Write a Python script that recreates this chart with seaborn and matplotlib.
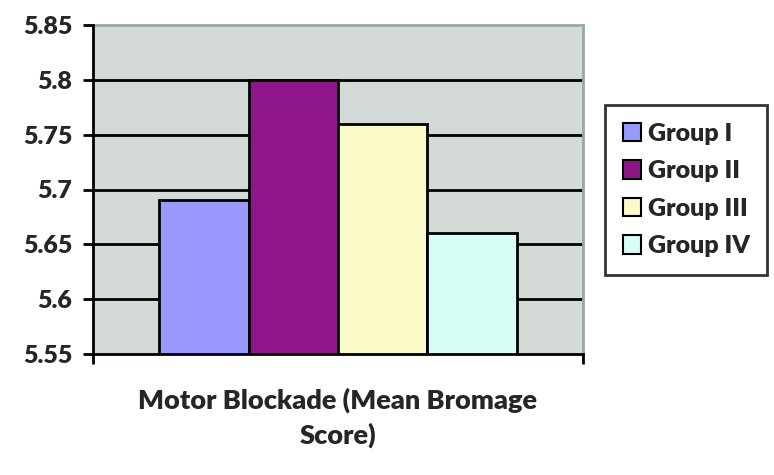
import matplotlib
matplotlib.use("Agg")
import matplotlib.pyplot as plt
from matplotlib.font_manager import FontProperties
import seaborn as sns
import pandas as pd

categories = ["Motor Blockade (Mean Bromage\nScore)"]
groups = ["Group I", "Group II", "Group III", "Group IV"]
values = [5.69, 5.80, 5.76, 5.66]
colors = ["#9999FF", "#8F1689", "#FAFBC8", "#D8FDF6"]
yticks = [5.55, 5.6, 5.65, 5.7, 5.75, 5.8, 5.85]
ytick_labels = ["5.55", "5.6", "5.65", "5.7", "5.75", "5.8", "5.85"]

df = pd.DataFrame({"category": categories * len(groups), "group": groups, "value": values})

sns.set_theme(style="white")
plt.rcParams["font.family"] = ["Lato", "DejaVu Sans"]

fp_tick = FontProperties(family="Lato", weight=800, size=18)
fp_leg = FontProperties(family="Lato", weight=800, size=18)
fp_cat = FontProperties(family="Lato", weight=800, size=19.5)

fig = plt.figure(figsize=(7.74, 4.75), dpi=100)
ax = fig.add_axes([93/774, 1-354/475, (583-93)/774, (354-25)/475])
ax.set_facecolor("#D3DAD8")

sns.barplot(data=df, x="category", y="value", hue="group", palette=colors,
            width=0.73, edgecolor="black", linewidth=2, ax=ax, zorder=3, saturation=1)

ax.set_ylim(5.55, 5.85)
ax.set_xlim(-0.5, 0.5)
ax.set_yticks(yticks)
ax.set_yticklabels(ytick_labels)
for t in ax.get_yticklabels():
    t.set_fontproperties(fp_tick)
for y in yticks[1:-1]:
    ax.axhline(y, color="black", lw=2, zorder=1)
ax.tick_params(axis="y", length=7, width=2, color="black", pad=8, left=True)
ax.set_xticks([-0.5, 0.5], minor=True)
ax.tick_params(axis="x", which="minor", length=7, width=2, color="black", bottom=True)
ax.tick_params(axis="x", which="major", length=0, pad=24)
for t in ax.get_xticklabels():
    t.set_fontproperties(fp_cat)
    t.set_linespacing(1.45)
ax.set_xlabel("")
ax.set_ylabel("")

for s in ["left", "bottom"]:
    ax.spines[s].set_color("black")
    ax.spines[s].set_linewidth(2)
    ax.spines[s].set_zorder(5)
for s in ["top", "right"]:
    ax.spines[s].set_color("#98A8A8")
    ax.spines[s].set_linewidth(2)

ax.legend_.remove()
handles, labels = ax.get_legend_handles_labels()
leg = fig.legend(handles, labels, loc="center left", bbox_to_anchor=(605/774, 1-190/475),
                 frameon=True, fancybox=False, edgecolor="black", prop=fp_leg,
                 handlelength=0.75, handleheight=0.75, handletextpad=0.25, labelspacing=0.62,
                 borderpad=0.7, borderaxespad=0)
leg.get_frame().set_linewidth(2)
for h in leg.legend_handles:
    h.set_linewidth(1.5)

fig.savefig("out.png", dpi=100)
